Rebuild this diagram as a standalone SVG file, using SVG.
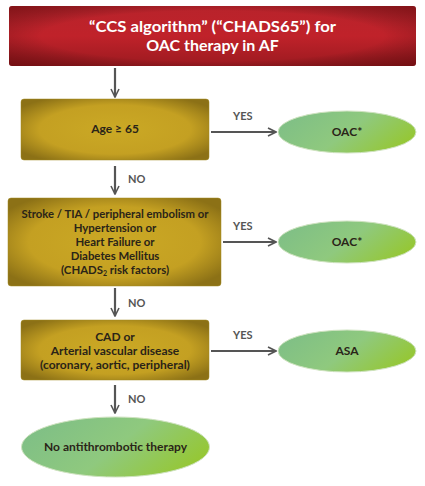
<svg xmlns="http://www.w3.org/2000/svg" width="425" height="486" viewBox="0 0 425 486">
<defs>
<linearGradient id="red" x1="0" y1="0" x2="0" y2="1">
<stop offset="0" stop-color="#b8232b"/><stop offset="0.5" stop-color="#c0222a"/><stop offset="1" stop-color="#9c1a20"/>
</linearGradient>
<radialGradient id="redv" cx="0.5" cy="0.5" r="0.7">
<stop offset="0.6" stop-color="#000" stop-opacity="0"/><stop offset="1" stop-color="#400" stop-opacity="0.45"/>
</radialGradient>
<radialGradient id="mus" cx="0.5" cy="0.5" r="0.62">
<stop offset="0" stop-color="#cba925"/><stop offset="0.65" stop-color="#c4a022"/><stop offset="1" stop-color="#8c7116"/>
</radialGradient>
<linearGradient id="grn" x1="0" y1="0.3" x2="1" y2="0.7">
<stop offset="0" stop-color="#7fbf86"/><stop offset="0.5" stop-color="#8fc97e"/><stop offset="1" stop-color="#96c72e"/>
</linearGradient>
<marker id="ah" viewBox="0 0 10 10" refX="9" refY="5" markerWidth="10" markerHeight="10" markerUnits="userSpaceOnUse" orient="auto">
<path d="M1,1 L9,5 L1,9" fill="none" stroke="#555" stroke-width="1.6"/>
</marker>
</defs>
<style>
.t{font-family:Lato,"Open Sans",sans-serif;font-weight:bold;fill:#2a2418;text-anchor:middle;font-size:12px}
.s{font-size:11.4px}
.ti{font-family:Lato,"Open Sans",sans-serif;font-weight:bold;fill:#fff;text-anchor:middle;font-size:16px}
.lb{font-family:Lato,"Open Sans",sans-serif;font-weight:bold;fill:#555;font-size:11px}
.c{stroke:#555;stroke-width:2.2;fill:none;marker-end:url(#ah)}
.box{stroke:#a08820;stroke-width:0.5}
.el{stroke:#cfe3c0;stroke-width:1}
</style>
<rect width="425" height="486" fill="#fff"/>
<g id="title">
<rect x="9" y="6" width="407" height="60" rx="3" fill="url(#red)"/>
<rect x="9" y="6" width="407" height="60" rx="3" fill="url(#redv)"/>
<text class="ti" x="212.5" y="32" textLength="247" lengthAdjust="spacingAndGlyphs">“CCS algorithm” (“CHADS65”) for</text>
<text class="ti" x="212.5" y="51">OAC therapy in AF</text>
</g>
<g id="age">
<rect class="box" x="21" y="99" width="188" height="61" rx="3" fill="url(#mus)"/>
<text class="t" x="115" y="133">Age ≥ 65</text>
</g>
<g id="oac1">
<ellipse class="el" cx="347" cy="132" rx="69" ry="21" fill="url(#grn)"/>
<text class="t" x="347" y="136">OAC*</text>
</g>
<g id="chads">
<rect class="box" x="8" y="198" width="213" height="88" rx="3" fill="url(#mus)"/>
<text class="t s" x="115" y="218" textLength="187" lengthAdjust="spacingAndGlyphs">Stroke / TIA / peripheral embolism or</text>
<text class="t s" x="115" y="232">Hypertension or</text>
<text class="t s" x="115" y="246">Heart Failure or</text>
<text class="t s" x="115" y="260">Diabetes Mellitus</text>
<text class="t s" x="115" y="274">(CHADS<tspan font-size="7" dy="2">2</tspan><tspan dy="-2"> risk factors)</tspan></text>
</g>
<g id="oac2">
<ellipse class="el" cx="347" cy="242" rx="69" ry="21" fill="url(#grn)"/>
<text class="t" x="347" y="246">OAC*</text>
</g>
<g id="cad">
<rect class="box" x="21" y="320" width="188" height="60" rx="3" fill="url(#mus)"/>
<text class="t" x="115" y="341">CAD or</text>
<text class="t" x="115" y="355">Arterial vascular disease</text>
<text class="t" x="115" y="369">(coronary, aortic, peripheral)</text>
</g>
<g id="asa">
<ellipse class="el" cx="347" cy="351" rx="69" ry="21" fill="url(#grn)"/>
<text class="t" x="347" y="355">ASA</text>
</g>
<g id="none">
<ellipse class="el" cx="115.5" cy="447" rx="94" ry="30" fill="url(#grn)"/>
<text class="t" x="115.5" y="451">No antithrombotic therapy</text>
</g>
<g id="connectors">
<line class="c" x1="115" y1="68" x2="115" y2="97"/>
<line class="c" x1="211" y1="132" x2="276" y2="132"/>
<text class="lb" x="233" y="120">YES</text>
<line class="c" x1="115" y1="166" x2="115" y2="194"/>
<text class="lb" x="128" y="183">NO</text>
<line class="c" x1="223" y1="242" x2="276" y2="242"/>
<text class="lb" x="233" y="230">YES</text>
<line class="c" x1="115" y1="288" x2="115" y2="316"/>
<text class="lb" x="128" y="307">NO</text>
<line class="c" x1="211" y1="351" x2="276" y2="351"/>
<text class="lb" x="233" y="339">YES</text>
<line class="c" x1="115" y1="385" x2="115" y2="413"/>
<text class="lb" x="128" y="403">NO</text>
</g>
</svg>
